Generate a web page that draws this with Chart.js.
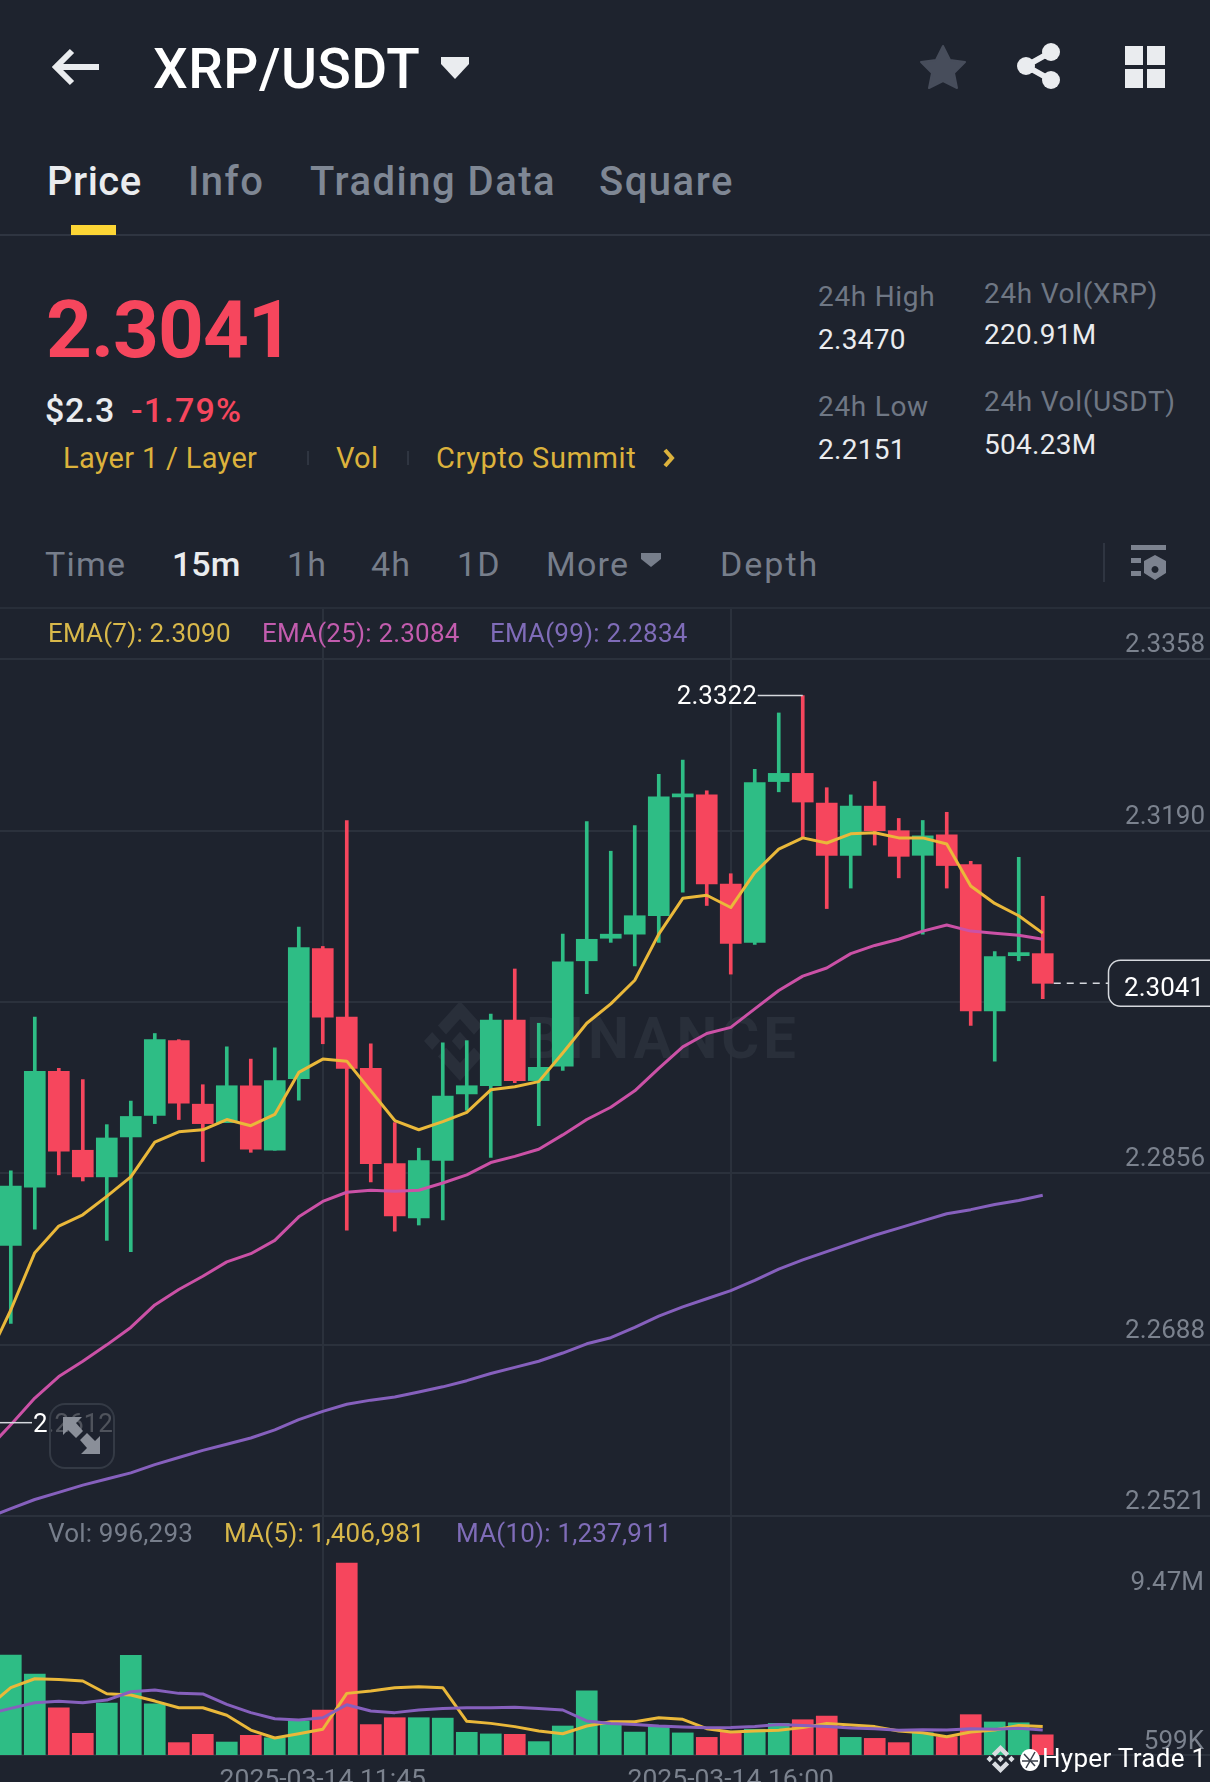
<!DOCTYPE html>
<html><head><meta charset="utf-8">
<script src="https://cdn.jsdelivr.net/npm/chart.js@4"></script>
<style>
html,body{margin:0;padding:0;background:#1e232e;}
body{width:1210px;height:1782px;position:relative;overflow:hidden;font-family:Roboto,sans-serif;}
.t{position:absolute;white-space:nowrap;transform:translateY(-50%);line-height:1;}
.line{position:absolute;background:#2f3541;}
canvas{position:absolute;left:0;}
svg{position:absolute;}
.tab{font-size:40px;color:#7f8794;font-weight:500;letter-spacing:1.5px;}
.s{font-size:28px;color:#6f7784;letter-spacing:.7px;}
.v{font-size:28px;color:#eaecef;letter-spacing:.3px;}
.m{font-size:34px;color:#777e8b;letter-spacing:1.2px;}
.y{font-size:29px;color:#dcb23c;letter-spacing:.3px;}
.l{font-size:26px;letter-spacing:.2px;}
</style></head><body>
<svg style="left:50px;top:46px" width="52" height="42" viewBox="0 0 52 42"><path d="M22 5L6 21l16 16M7 21h42" fill="none" stroke="#eaecef" stroke-width="6"/></svg>
<div class="t" style="left:153px;top:69px;font-size:55px;font-weight:500;color:#fff;letter-spacing:.5px">XRP/USDT</div>
<svg style="left:440px;top:56px" width="30" height="24" viewBox="0 0 30 24"><path d="M1 1h28v7L15 23 1 8z" fill="#eaecef"/></svg>
<svg style="left:918px;top:42px" width="50" height="50" viewBox="0 0 50 50"><path d="M25 4l7 14 15 2-11 11 3 15-14-7-14 7 3-15L3 20l15-2z" fill="#474d5b" stroke="#474d5b" stroke-width="2" stroke-linejoin="round"/></svg>
<svg style="left:1012px;top:40px" width="52" height="52" viewBox="0 0 52 52"><path d="M14 26L39 12M14 26l25 14" stroke="#eaecef" stroke-width="6"/><circle cx="14" cy="26" r="9" fill="#eaecef"/><circle cx="39" cy="12" r="9" fill="#eaecef"/><circle cx="39" cy="40" r="9" fill="#eaecef"/></svg>
<svg style="left:1125px;top:46px" width="41" height="42" viewBox="0 0 41 42"><path d="M0 0h18v19H0zM22 0h18v19H22zM0 23h18v19H0zM22 23h18v19H22z" fill="#eaecef"/></svg>

<div class="t tab" style="left:47px;top:182px;color:#eaecef;letter-spacing:.5px">Price</div>
<div class="t tab" style="left:188px;top:182px">Info</div>
<div class="t tab" style="left:310px;top:182px">Trading Data</div>
<div class="t tab" style="left:599px;top:182px">Square</div>
<div class="line" style="left:0;top:234px;width:1210px;height:2px"></div>
<div class="line" style="left:71px;top:225px;width:45px;height:10px;background:#fcd535"></div>

<div class="t" style="left:46px;top:330px;font-size:80px;font-weight:700;color:#f6465d;letter-spacing:-1px">2.3041</div>
<div class="t" style="left:45px;top:410px;font-size:34px;font-weight:500;color:#eaecef;letter-spacing:.6px">$2.3</div>
<div class="t" style="left:131px;top:410px;font-size:34px;font-weight:500;color:#f6465d;letter-spacing:1.2px">-1.79%</div>
<div class="t y" style="left:63px;top:458px">Layer 1 / Layer</div>
<div class="line" style="left:307px;top:451px;width:2px;height:14px"></div>
<div class="t y" style="left:336px;top:458px">Vol</div>
<div class="line" style="left:407px;top:451px;width:2px;height:14px"></div>
<div class="t y" style="left:436px;top:458px;letter-spacing:.6px">Crypto Summit</div>
<svg style="left:662px;top:447px" width="14" height="22" viewBox="0 0 14 22"><path d="M3 3l7 8-7 8" fill="none" stroke="#dcb23c" stroke-width="4"/></svg>

<div class="t s" style="left:818px;top:297px">24h High</div>
<div class="t v" style="left:818px;top:340px">2.3470</div>
<div class="t s" style="left:818px;top:407px">24h Low</div>
<div class="t v" style="left:818px;top:450px">2.2151</div>
<div class="t s" style="left:984px;top:294px">24h Vol(XRP)</div>
<div class="t v" style="left:984px;top:335px">220.91M</div>
<div class="t s" style="left:984px;top:402px">24h Vol(USDT)</div>
<div class="t v" style="left:984px;top:445px">504.23M</div>

<div class="t m" style="left:45px;top:564px">Time</div>
<div class="t m" style="left:172px;top:564px;color:#eaecef;font-weight:500;letter-spacing:0">15m</div>
<div class="t m" style="left:287px;top:564px">1h</div>
<div class="t m" style="left:371px;top:564px">4h</div>
<div class="t m" style="left:457px;top:564px">1D</div>
<div class="t m" style="left:546px;top:564px">More</div>
<svg style="left:640px;top:552px" width="22" height="16" viewBox="0 0 22 16"><path d="M1 1h20v6l-10 8L1 7z" fill="#777e8b"/></svg>
<div class="t m" style="left:720px;top:564px;letter-spacing:2px">Depth</div>
<div class="line" style="left:1103px;top:543px;width:2px;height:39px"></div>
<svg style="left:1130px;top:544px" width="38" height="38" viewBox="0 0 38 38" fill="#7c828f"><path d="M1 1h35v5H1zM1 14h10v5H1zM1 27h10v5H1z"/><path d="M25 11l11 6v12l-11 7-11-7V17zm0 11a3.500 3.500 0 1 0 .01 0z" fill-rule="evenodd"/></svg>
<div class="line" style="left:0;top:607px;width:1210px;height:2px;background:#282e39"></div>

<svg style="left:424px;top:1001px" width="72" height="80" viewBox="0 0 126.6 126.6" preserveAspectRatio="none"><path fill="#292f3a" d="M38.73 53.2l24.59-24.58 24.6 24.6 14.3-14.31L63.32 0 24.42 38.9zM0 63.31l14.3-14.31 14.31 14.31-14.31 14.3zM38.73 73.41l24.59 24.59 24.6-24.6 14.31 14.29-38.9 38.91-38.91-38.88zM98.28 63.31l14.3-14.31 14.32 14.31-14.31 14.3zM77.83 63.3L63.32 48.78 52.59 59.51l-1.24 1.23-2.54 2.54 14.51 14.5 14.51-14.47z"/></svg>
<div class="t" style="left:526px;top:1038px;font-size:58px;font-weight:700;color:#292f3a;letter-spacing:4px">BINANCE</div>

<canvas id="main" width="1210" height="908" style="top:609px;width:1210px;height:908px"></canvas>
<canvas id="vol" width="1210" height="265" style="top:1517px;width:1210px;height:265px"></canvas>

<div class="t l" style="left:48px;top:633px;color:#d8b84a">EMA(7): 2.3090</div>
<div class="t l" style="left:262px;top:633px;color:#c25cae">EMA(25): 2.3084</div>
<div class="t l" style="left:490px;top:633px;color:#7f6cb8">EMA(99): 2.2834</div>
<div class="t l" style="left:48px;top:1533px;color:#777e8b">Vol: 996,293</div>
<div class="t l" style="left:224px;top:1533px;color:#d8b84a">MA(5): 1,406,981</div>
<div class="t l" style="left:456px;top:1533px;color:#7f6cb8">MA(10): 1,237,911</div>

<div style="position:absolute;left:49px;top:1403px;width:62px;height:62px;border:2px solid #343a45;border-radius:16px;background:rgba(30,35,46,.78)">
<svg style="left:0;top:0" width="62" height="62" viewBox="0 0 62 62" fill="#8a8f99"><path d="M12 12h19l-6 6 7 8-7 7-8-8-5 5zM49 49H30l6-6-7-8 7-7 8 8 5-5z"/></svg></div>

<svg style="left:986px;top:1745px" width="29" height="28" viewBox="0 0 126.6 126.6"><path fill="#d9dce1" d="M38.73 53.2l24.59-24.58 24.6 24.6 14.3-14.31L63.32 0 24.42 38.9zM0 63.31l14.3-14.31 14.31 14.31-14.31 14.3zM38.73 73.41l24.59 24.59 24.6-24.6 14.31 14.29-38.9 38.91-38.91-38.88zM98.28 63.31l14.3-14.31 14.32 14.31-14.31 14.3zM77.83 63.3L63.32 48.78 52.59 59.51l-1.24 1.23-2.54 2.54 14.51 14.5 14.51-14.47z"/></svg>
<svg style="left:1019px;top:1748px" width="22" height="24" viewBox="0 0 22 24"><ellipse cx="11" cy="12" rx="10" ry="11" fill="#fff"/><path d="M5 6l11 12M16 4L7 20M3 13h16" stroke="#3a3f4a" stroke-width="1.500"/></svg>
<div class="t" style="left:1042px;top:1758px;font-size:26px;color:#fff;letter-spacing:.3px">Hyper Trade 1</div>

<script>
// Candles, oldest first
const opens  = [2.2785,2.2842,2.2955,2.2878,2.2852,2.2891,2.2912,2.2985,2.2923,2.2905,2.2941,2.2878,2.2948,2.3075,2.3008,2.2958,2.2865,2.2812,2.2868,2.2933,2.2941,2.3005,2.2946,2.2960,2.3063,2.3085,2.3089,2.3107,2.3223,2.3225,2.3138,2.3081,2.3238,2.3246,2.3217,2.3166,2.3214,2.3190,2.3166,2.3186,2.3157,2.3014,2.3068,2.3070];
const highs  = [2.2858,2.3008,2.2958,2.2947,2.2903,2.2926,2.2992,2.2986,2.2942,2.2979,2.2967,2.2978,2.3096,2.3077,2.3200,2.2982,2.2905,2.2880,2.2983,2.2985,2.3011,2.3055,2.3002,2.3089,2.3199,2.3170,2.3195,2.3245,2.3259,2.3229,2.3148,2.3250,2.3305,2.3322,2.3232,2.3225,2.3238,2.3202,2.3200,2.3208,2.3160,2.3072,2.3164,2.3126];
const lows   = [2.2709,2.2801,2.2854,2.2848,2.2790,2.2779,2.2904,2.2908,2.2867,2.2905,2.2876,2.2878,2.2927,2.2982,2.2800,2.2847,2.2799,2.2805,2.2810,2.2917,2.2871,2.2944,2.2902,2.2956,2.3031,2.3081,2.3058,2.3081,2.3130,2.3117,2.3050,2.3079,2.3228,2.3183,2.3114,2.3134,2.3176,2.3144,2.3089,2.3134,2.3000,2.2965,2.3063,2.3026];
const closes = [2.2843,2.2955,2.2877,2.2852,2.2890,2.2911,2.2986,2.2924,2.2904,2.2941,2.2879,2.2946,2.3076,2.3008,2.2958,2.2865,2.2814,2.2868,2.2931,2.2941,2.3005,2.2946,2.2959,2.3062,2.3084,2.3089,2.3107,2.3223,2.3226,2.3138,2.3080,2.3237,2.3246,2.3218,2.3166,2.3214,2.3190,2.3165,2.3185,2.3156,2.3014,2.3067,2.3071,2.3041];
// Moving averages start one candle before the first visible one (index -1)
const ema7  = [2.2673,2.2722,2.2778,2.2804,2.2815,2.2833,2.2852,2.2886,2.2896,2.2898,2.2908,2.2902,2.2913,2.2954,2.2967,2.2965,2.2936,2.2907,2.2898,2.2906,2.2915,2.2937,2.2940,2.2945,2.2973,2.3002,2.3021,2.3044,2.3089,2.3124,2.3127,2.3115,2.3149,2.3172,2.3183,2.3178,2.3187,2.3188,2.3183,2.3183,2.3177,2.3136,2.3119,2.3107,2.3090];
const ema25 = [2.2585,2.2610,2.2636,2.2657,2.2672,2.2688,2.2705,2.2727,2.2742,2.2755,2.2769,2.2777,2.2790,2.2813,2.2828,2.2837,2.2839,2.2838,2.2839,2.2846,2.2854,2.2866,2.2872,2.2879,2.2893,2.2908,2.2920,2.2936,2.2958,2.2979,2.2992,2.2998,2.3016,2.3034,2.3048,2.3056,2.3070,2.3078,2.3084,2.3092,2.3098,2.3092,2.3090,2.3088,2.3084];
const ema99 = [2.2519,2.2528,2.2537,2.2544,2.2551,2.2557,2.2563,2.2571,2.2578,2.2585,2.2591,2.2597,2.2605,2.2615,2.2623,2.2630,2.2634,2.2637,2.2642,2.2647,2.2653,2.2660,2.2666,2.2672,2.2680,2.2689,2.2695,2.2705,2.2716,2.2725,2.2733,2.2741,2.2751,2.2762,2.2771,2.2779,2.2787,2.2795,2.2802,2.2809,2.2816,2.2820,2.2825,2.2829,2.2834];
// Volume
const volumes = [4930000,3990000,2330000,1070000,2560000,4920000,2520000,610000,1020000,640000,970000,850000,1680000,2220000,9470000,1500000,1840000,1840000,1820000,1120000,1040000,1020000,660000,1430000,3160000,1630000,1130000,1430000,1090000,870000,1130000,1270000,1560000,1740000,1920000,870000,820000,610000,1100000,900000,1990000,1630000,1590000,996293];
const ma5  = [2330000,3320000,3760000,3720000,3650000,3020000,2960000,2660000,2330000,2330000,1960000,1230000,840000,1050000,1270000,3040000,3160000,3320000,3370000,3320000,1660000,1560000,1400000,1180000,1050000,1430000,1640000,1640000,1840000,1760000,1300000,1130000,1180000,1220000,1350000,1560000,1480000,1400000,1180000,1100000,900000,1130000,1230000,1460000,1406981];
const ma10 = [2010000,2300000,2580000,2650000,2580000,2710000,3120000,3210000,3040000,3010000,2500000,2090000,1790000,1730000,1840000,2480000,2170000,2090000,2220000,2290000,2330000,2330000,2350000,2290000,2220000,1680000,1550000,1510000,1430000,1380000,1350000,1360000,1410000,1510000,1460000,1400000,1330000,1300000,1220000,1250000,1230000,1300000,1270000,1320000,1237911];
// Axis labels
const priceTicks = [2.3358,2.3190,2.3023,2.2856,2.2688,2.2521];
const priceTickLabels = ["2.3358","2.3190","","2.2856","2.2688","2.2521"];
const timeTickIndex = [13,30];
const timeTickLabels = ["2025-03-14 11:45","2025-03-14 16:00"];
const highMark = {index:33, value:2.3322, label:"2.3322"};
const lowMark = {value:2.2612, label:"2.2612"};
const lastPrice = {index:43, value:2.3041, label:"2.3041"};

const UP="#2ebd85", DOWN="#f6465d", GRID="#2b313c", TICK="#7b828e";
const XMIN=-0.45, XMAX=49.97;
const barColors = closes.map((c,i)=> c>=opens[i] ? UP : DOWN);
const FONT="Roboto, sans-serif";
const line = (vals,color,w)=>({type:"line",data:vals.map((v,i)=>({x:i-1,y:v})),borderColor:color,borderWidth:w,pointRadius:0,tension:0,order:1,borderJoinStyle:"round"});
const zeroW = s=>{s.width=0;s.paddingTop=0;s.paddingBottom=0;s.paddingLeft=0;s.paddingRight=0;};

const annotate = {id:"annotate",afterDatasetsDraw(c){
  const g=c.ctx,xs=c.scales.x,ys=c.scales.y;
  g.save();
  g.font="26px "+FONT;g.textBaseline="middle";g.fillStyle="#fff";g.strokeStyle="#d5d8dd";g.lineWidth=1.5;
  // highest-price marker
  const hx=xs.getPixelForValue(highMark.index),hy=ys.getPixelForValue(highMark.value);
  g.beginPath();g.moveTo(hx-45,hy);g.lineTo(hx,hy);g.stroke();
  g.textAlign="right";g.fillText(highMark.label,hx-46,hy+2);
  // lowest-price marker
  const ly=ys.getPixelForValue(lowMark.value);
  g.beginPath();g.moveTo(xs.left,ly);g.lineTo(xs.left+32,ly);g.stroke();
  g.textAlign="left";g.fillText(lowMark.label,xs.left+33,ly+3);
  // last price
  const px=xs.getPixelForValue(lastPrice.index),py=ys.getPixelForValue(lastPrice.value);
  g.setLineDash([7,6]);g.beginPath();g.moveTo(px+11,py);g.lineTo(1108,py);g.stroke();g.setLineDash([]);
  g.beginPath();g.roundRect(1108.5,py-23,120,46,12);g.fillStyle="#1e232e";g.fill();g.stroke();
  g.fillStyle="#fff";g.textAlign="right";g.fillText(lastPrice.label,1204,py+6);
  g.restore();
}};

new Chart(document.getElementById("main"),{
  data:{datasets:[
    line(ema99,"#8660bd",3),line(ema25,"#cb51a6",3),line(ema7,"#eab83a",3),
    {type:"bar",order:3,grouped:false,barThickness:3,backgroundColor:barColors,data:highs.map((h,i)=>({x:i,y:[lows[i],h]}))},
    {type:"bar",order:2,grouped:false,barThickness:21,backgroundColor:barColors,data:opens.map((o,i)=>({x:i,y:[o,closes[i]]}))}
  ]},
  plugins:[annotate],
  options:{responsive:false,animation:false,devicePixelRatio:1,layout:{padding:0,autoPadding:false},
    plugins:{legend:{display:false},tooltip:{enabled:false}},
    scales:{
      x:{type:"linear",min:XMIN,max:XMAX,offset:false,
        afterBuildTicks:a=>{a.ticks=timeTickIndex.map(v=>({value:v}));},
        ticks:{display:false},afterFit:s=>{s.height=0;s.paddingLeft=0;s.paddingRight=0;},
        grid:{color:GRID,lineWidth:2,drawTicks:false,offset:false},border:{display:false}},
      y:{type:"linear",position:"right",min:2.25199,max:2.34065,
        afterBuildTicks:a=>{a.ticks=priceTicks.map(v=>({value:v}));},
        afterFit:zeroW,
        ticks:{mirror:true,padding:-5,labelOffset:-13,color:TICK,font:{family:FONT,size:26},
          callback:v=>priceTickLabels[priceTicks.indexOf(v)]},
        grid:{color:GRID,lineWidth:2,drawTicks:false},border:{display:false}}
    }}
});

new Chart(document.getElementById("vol"),{
  data:{datasets:[
    line(ma10,"#8660bd",3),line(ma5,"#eab83a",3),
    {type:"bar",order:2,grouped:false,barThickness:21,backgroundColor:barColors,data:volumes.map((v,i)=>({x:i,y:v}))}
  ]},
  options:{responsive:false,animation:false,devicePixelRatio:1,layout:{padding:0,autoPadding:false},
    plugins:{legend:{display:false},tooltip:{enabled:false}},
    scales:{
      x:{type:"linear",min:XMIN,max:XMAX,offset:false,
        afterBuildTicks:a=>{a.ticks=timeTickIndex.map(v=>({value:v}));},
        afterFit:s=>{s.height=27;s.paddingLeft=0;s.paddingRight=0;},
        ticks:{autoSkip:false,maxRotation:0,padding:9,color:TICK,font:{family:FONT,size:26.5},
          callback:v=>timeTickLabels[timeTickIndex.indexOf(v)]},
        grid:{color:GRID,lineWidth:2,drawTicks:false,offset:false},border:{display:true,color:GRID,width:2}},
      y:{type:"linear",position:"right",min:0,max:11740000,
        afterBuildTicks:a=>{a.ticks=[{value:9470000}];},afterFit:zeroW,
        ticks:{mirror:true,padding:-6,labelOffset:20,color:TICK,font:{family:FONT,size:26},callback:()=>"9.47M"},
        grid:{display:false},border:{display:false}},
      yLow:{type:"linear",position:"right",min:0,max:11740000,
        afterBuildTicks:a=>{a.ticks=[{value:599000}];},afterFit:zeroW,
        ticks:{mirror:true,padding:-6,labelOffset:0,color:TICK,font:{family:FONT,size:26},callback:()=>"599K"},
        grid:{display:false},border:{display:false}}
    }}
});
</script>
</body></html>
